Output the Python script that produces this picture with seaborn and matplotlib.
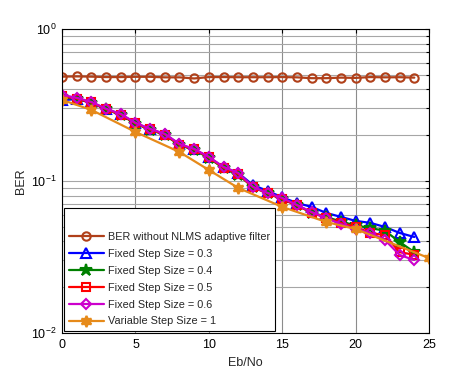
import numpy as np
import pandas as pd
import matplotlib
matplotlib.use("Agg")
import matplotlib.pyplot as plt
import seaborn as sns
from matplotlib.ticker import LogLocator, FixedLocator

# ---- data ----
ebno = list(range(0, 25))
ber_no_nlms = [0.485, 0.487, 0.485, 0.482, 0.482, 0.484, 0.484, 0.480, 0.480, 0.472,
               0.482, 0.482, 0.481, 0.481, 0.481, 0.482, 0.480, 0.474, 0.474, 0.478,
               0.476, 0.482, 0.480, 0.481, 0.478]
ber_mu03 = [0.340, 0.345, 0.328, 0.298, 0.274, 0.240, 0.219, 0.203, 0.174, 0.161,
            0.143, 0.123, 0.113, 0.094, 0.086, 0.078, 0.0716, 0.0675, 0.0616, 0.058,
            0.0546, 0.053, 0.0498, 0.0455, 0.0428]
ber_mu04 = [0.355, 0.346, 0.327, 0.295, 0.272, 0.238, 0.217, 0.201, 0.172, 0.160,
            0.142, 0.121, 0.110, 0.091, 0.083, 0.076, 0.069, 0.062, 0.058, 0.054,
            0.051, 0.049, 0.047, 0.0397, 0.034]
ber_mu05 = [0.360, 0.348, 0.328, 0.296, 0.273, 0.239, 0.218, 0.202, 0.173, 0.161,
            0.143, 0.122, 0.111, 0.091, 0.083, 0.076, 0.069, 0.062, 0.057, 0.053,
            0.050, 0.0455, 0.044, 0.034, 0.0327]
ber_mu06 = [0.368, 0.352, 0.331, 0.298, 0.276, 0.241, 0.220, 0.204, 0.175, 0.1625,
            0.144, 0.1236, 0.113, 0.0914, 0.0834, 0.0773, 0.0695, 0.0625, 0.057, 0.052,
            0.0483, 0.0455, 0.0409, 0.0326, 0.0302]
ebno_var = [0, 2, 5, 8, 10, 12, 15, 18, 20, 25]
ber_var = [0.341, 0.293, 0.210, 0.155, 0.118, 0.090, 0.0675, 0.0537, 0.0483, 0.0311]

labels = ["BER without NLMS adaptive filter", "Fixed Step Size = 0.3",
          "Fixed Step Size = 0.4", "Fixed Step Size = 0.5",
          "Fixed Step Size = 0.6", "Variable Step Size = 1"]
x_ticks = [0, 5, 10, 15, 20, 25]

# ---- style ----
sns.set_theme(style="white")
plt.rcParams["font.family"] = ["Liberation Sans", "DejaVu Sans"]
plt.rcParams["mathtext.fontset"] = "custom"
plt.rcParams["mathtext.rm"] = "Liberation Sans"
plt.rcParams["mathtext.it"] = "Liberation Sans"

fig = plt.figure(figsize=(4.74, 3.75), dpi=100)
ax = fig.add_axes([0.131, 0.112, 0.774, 0.811])

series = [
    (ebno, ber_no_nlms, "#B0401A", "o", 6, "none"),
    (ebno, ber_mu03, "#0000FF", "^", 6.5, "none"),
    (ebno, ber_mu04, "#008000", "*", 9, None),
    (ebno, ber_mu05, "#FF0000", "s", 6, "none"),
    (ebno, ber_mu06, "#CC00CC", "D", 5, "none"),
    (ebno_var, ber_var, "#E68A1A", (6, 1, 0), 8, None),
]
for (xs, ys, col, mk, ms, mfc), lab in zip(series, labels):
    sns.lineplot(x=xs, y=ys, ax=ax, color=col, marker=mk, markersize=ms,
                 markeredgecolor=col, markeredgewidth=1.5, linewidth=1.6,
                 markerfacecolor=mfc if mfc else col,
                 label=lab, estimator=None, sort=False)

ax.set_yscale("log")
ax.set_xlim(0, 25)
ax.set_ylim(0.01, 1)
ax.xaxis.set_major_locator(FixedLocator(x_ticks))
ax.yaxis.set_major_locator(LogLocator(base=10))
ax.yaxis.set_minor_locator(LogLocator(base=10, subs=np.arange(2, 10)))

ax.grid(True, which="major", axis="x", color="0.55", linewidth=0.8)
ax.grid(True, which="both", axis="y", color="0.65", linewidth=0.8)
ax.set_axisbelow(True)

ax.tick_params(axis="both", which="both", direction="in", top=True, right=True,
               labelsize=9, colors="black", pad=4)
ax.tick_params(axis="both", which="major", length=3, width=0.8)
ax.tick_params(axis="y", which="minor", length=2, width=0.8)
for s in ax.spines.values():
    s.set_color("black")
    s.set_linewidth(0.8)

ax.set_xlabel("Eb/No", fontsize=9, labelpad=5)
ax.set_ylabel("BER", fontsize=9, labelpad=3)

leg = ax.legend(loc="lower left", fontsize=7.8, frameon=True, fancybox=False,
                edgecolor="black", framealpha=1, handlelength=3.3,
                handletextpad=0.3, labelspacing=0.64, borderaxespad=0.15,
                borderpad=0.45, title=" ", title_fontsize=9)
leg.get_frame().set_linewidth(0.8)

fig.savefig("out.png", dpi=100)
